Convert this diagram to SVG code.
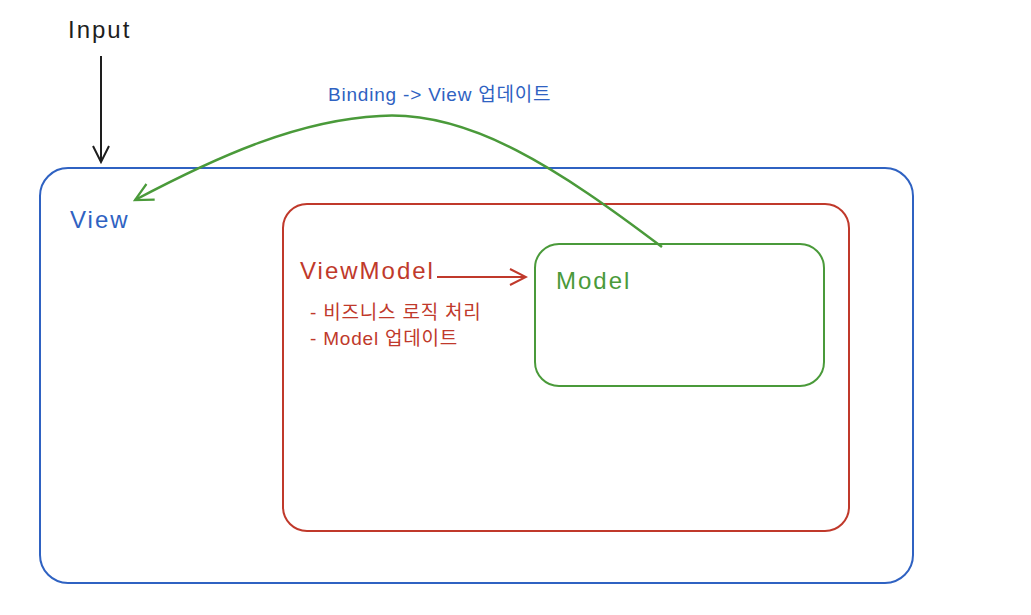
<svg xmlns="http://www.w3.org/2000/svg" width="1031" height="615" viewBox="0 0 1031 615">
<defs>
<style>
.t{font-family:"Liberation Sans","Noto Sans CJK KR",sans-serif;font-size:24px;letter-spacing:2px}
.s{font-family:"Liberation Sans","Noto Sans CJK KR",sans-serif;font-size:19px;letter-spacing:0.8px}
</style>
<marker id="ab" viewBox="0 0 20 20" refX="18" refY="10" markerWidth="20" markerHeight="20" markerUnits="userSpaceOnUse" orient="auto"><path d="M2,2 L18,10 L2,18" fill="none" stroke="#1e1e1e" stroke-width="2"/></marker>
<marker id="ar" viewBox="0 0 20 20" refX="18" refY="10" markerWidth="20" markerHeight="20" markerUnits="userSpaceOnUse" orient="auto"><path d="M2,2 L18,10 L2,18" fill="none" stroke="#c0392b" stroke-width="2"/></marker>
<marker id="ag" viewBox="0 0 20 20" refX="18" refY="10" markerWidth="22" markerHeight="22" markerUnits="userSpaceOnUse" orient="auto"><path d="M2,2 L18,10 L2,18" fill="none" stroke="#4a9a3a" stroke-width="2"/></marker>
</defs>
<rect width="1031" height="615" fill="#fff"/>
<g id="view"><rect x="40" y="168" width="873" height="415" rx="28" fill="none" stroke="#2f62c2" stroke-width="2"/><text class="t" x="70" y="228" fill="#2f62c2">View</text></g>
<g id="viewmodel"><rect x="283" y="204" width="566" height="327" rx="24" fill="none" stroke="#c0392b" stroke-width="2"/><text class="t" x="300" y="279" fill="#c0392b">ViewModel</text><text class="s" x="310" y="319" fill="#c0392b">- 비즈니스 로직 처리</text><text class="s" x="310" y="345" fill="#c0392b">- Model 업데이트</text></g>
<g id="model"><rect x="535" y="244" width="289" height="142" rx="24" fill="none" stroke="#4a9a3a" stroke-width="2"/><text class="t" x="556" y="289" fill="#4a9a3a">Model</text></g>
<g id="input"><text class="t" x="68" y="38" fill="#1e1e1e">Input</text></g>
<g id="connectors">
<line x1="101" y1="56" x2="101" y2="162" stroke="#1e1e1e" stroke-width="2" marker-end="url(#ab)"/>
<line x1="437" y1="277" x2="526" y2="277" stroke="#c0392b" stroke-width="2" marker-end="url(#ar)"/>
<path d="M662,247 C560,170 470,110 380,116 C300,120 220,155 135,200" fill="none" stroke="#4a9a3a" stroke-width="2.5" marker-end="url(#ag)"/>
<text class="s" x="328" y="101" fill="#2f62c2">Binding -&gt; View 업데이트</text>
</g>
</svg>
